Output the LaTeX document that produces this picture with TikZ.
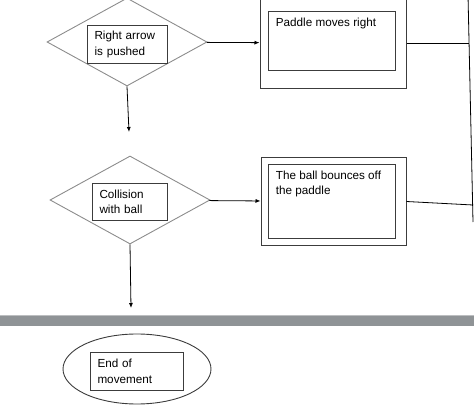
\documentclass[tikz,border=0pt]{standalone}
\usepackage{fontspec}
\setmainfont{Liberation Sans}
\usetikzlibrary{shapes.geometric,arrows.meta,positioning}

\definecolor{linegray}{RGB}{140,140,140}
\definecolor{boxgray}{RGB}{60,60,60}
\definecolor{bargray}{RGB}{143,147,150}

\tikzstyle{decision} = [diamond, draw=linegray, line width=0.9pt,
	minimum width=160pt, minimum height=88pt, inner sep=0pt]
\tikzstyle{tag} = [rectangle, draw=boxgray, line width=1pt, anchor=north west,
	align=left, inner xsep=7pt, inner ysep=0pt, minimum height=38pt]
\tikzstyle{frame} = [rectangle, draw=boxgray, line width=1pt]
\tikzstyle{words} = [inner sep=0pt, anchor=north west, align=left]

\begin{document}
\begin{tikzpicture}[x=1pt, y=-1pt, >={Latex[length=5pt,width=4pt]},
	font=\fontsize{11.7}{15.5}\selectfont, line width=0.8pt]
	\useasboundingbox (0,0) rectangle (474,409);
	\clip (0,0) rectangle (474,409);

	\node [decision] (D1) at (127,42) {};
	\node [tag, text width=66pt] (T1) at (87,25) {Right arrow\\is pushed};
	\node [frame, minimum width=146pt, minimum height=92pt] (P1) at (333,43) {};
	\node [frame, minimum width=127pt, minimum height=59pt] (P1in) at (331.5,41.5) {};
	\node [words] (W1) at ([xshift=8pt,yshift=-6.5pt]P1in.north west) {Paddle moves right};

	\node [decision] (D2) at (130,200) {};
	\node [tag, text width=61pt, minimum height=37pt] (T2) at (92,183) {Collision\\with ball};
	\node [frame, minimum width=145pt, minimum height=87pt] (P2) at (333.5,201.5) {};
	\node [frame, minimum width=127pt, minimum height=73pt] (P2in) at (331.5,201.5) {};
	\node [words] (W2) at ([xshift=8pt,yshift=-6pt]P2in.north west) {The ball bounces off\\the paddle};

	\node [ellipse, draw=boxgray, line width=0.9pt, minimum width=148pt, minimum height=70pt] (E1) at (137,369) {};
	\node [tag, text width=79pt] (T3) at (90,352) {End of\\movement};

	\coordinate (A1) at (129,132);
	\coordinate (A2) at (131,308);
	\coordinate (R0) at (468,-5);
	\coordinate (R1) at (469,43);
	\coordinate (R2) at (473,222);
	\coordinate (R3) at (473,205);

	\path[->]
	(D1) edge (P1)
	(D2) edge (P2)
	(D1.south) edge (A1)
	(D2.south) edge (A2);

	\draw (P1.east) -- (R1);
	\draw (P2.east) -- (R3);
	\draw (R0) -- (R2);

	\fill [bargray] (0,315) rectangle (474,326);
	\draw [bargray!60, line width=1pt] (0,315.5) -- (474,315.5);
\end{tikzpicture}
\end{document}
